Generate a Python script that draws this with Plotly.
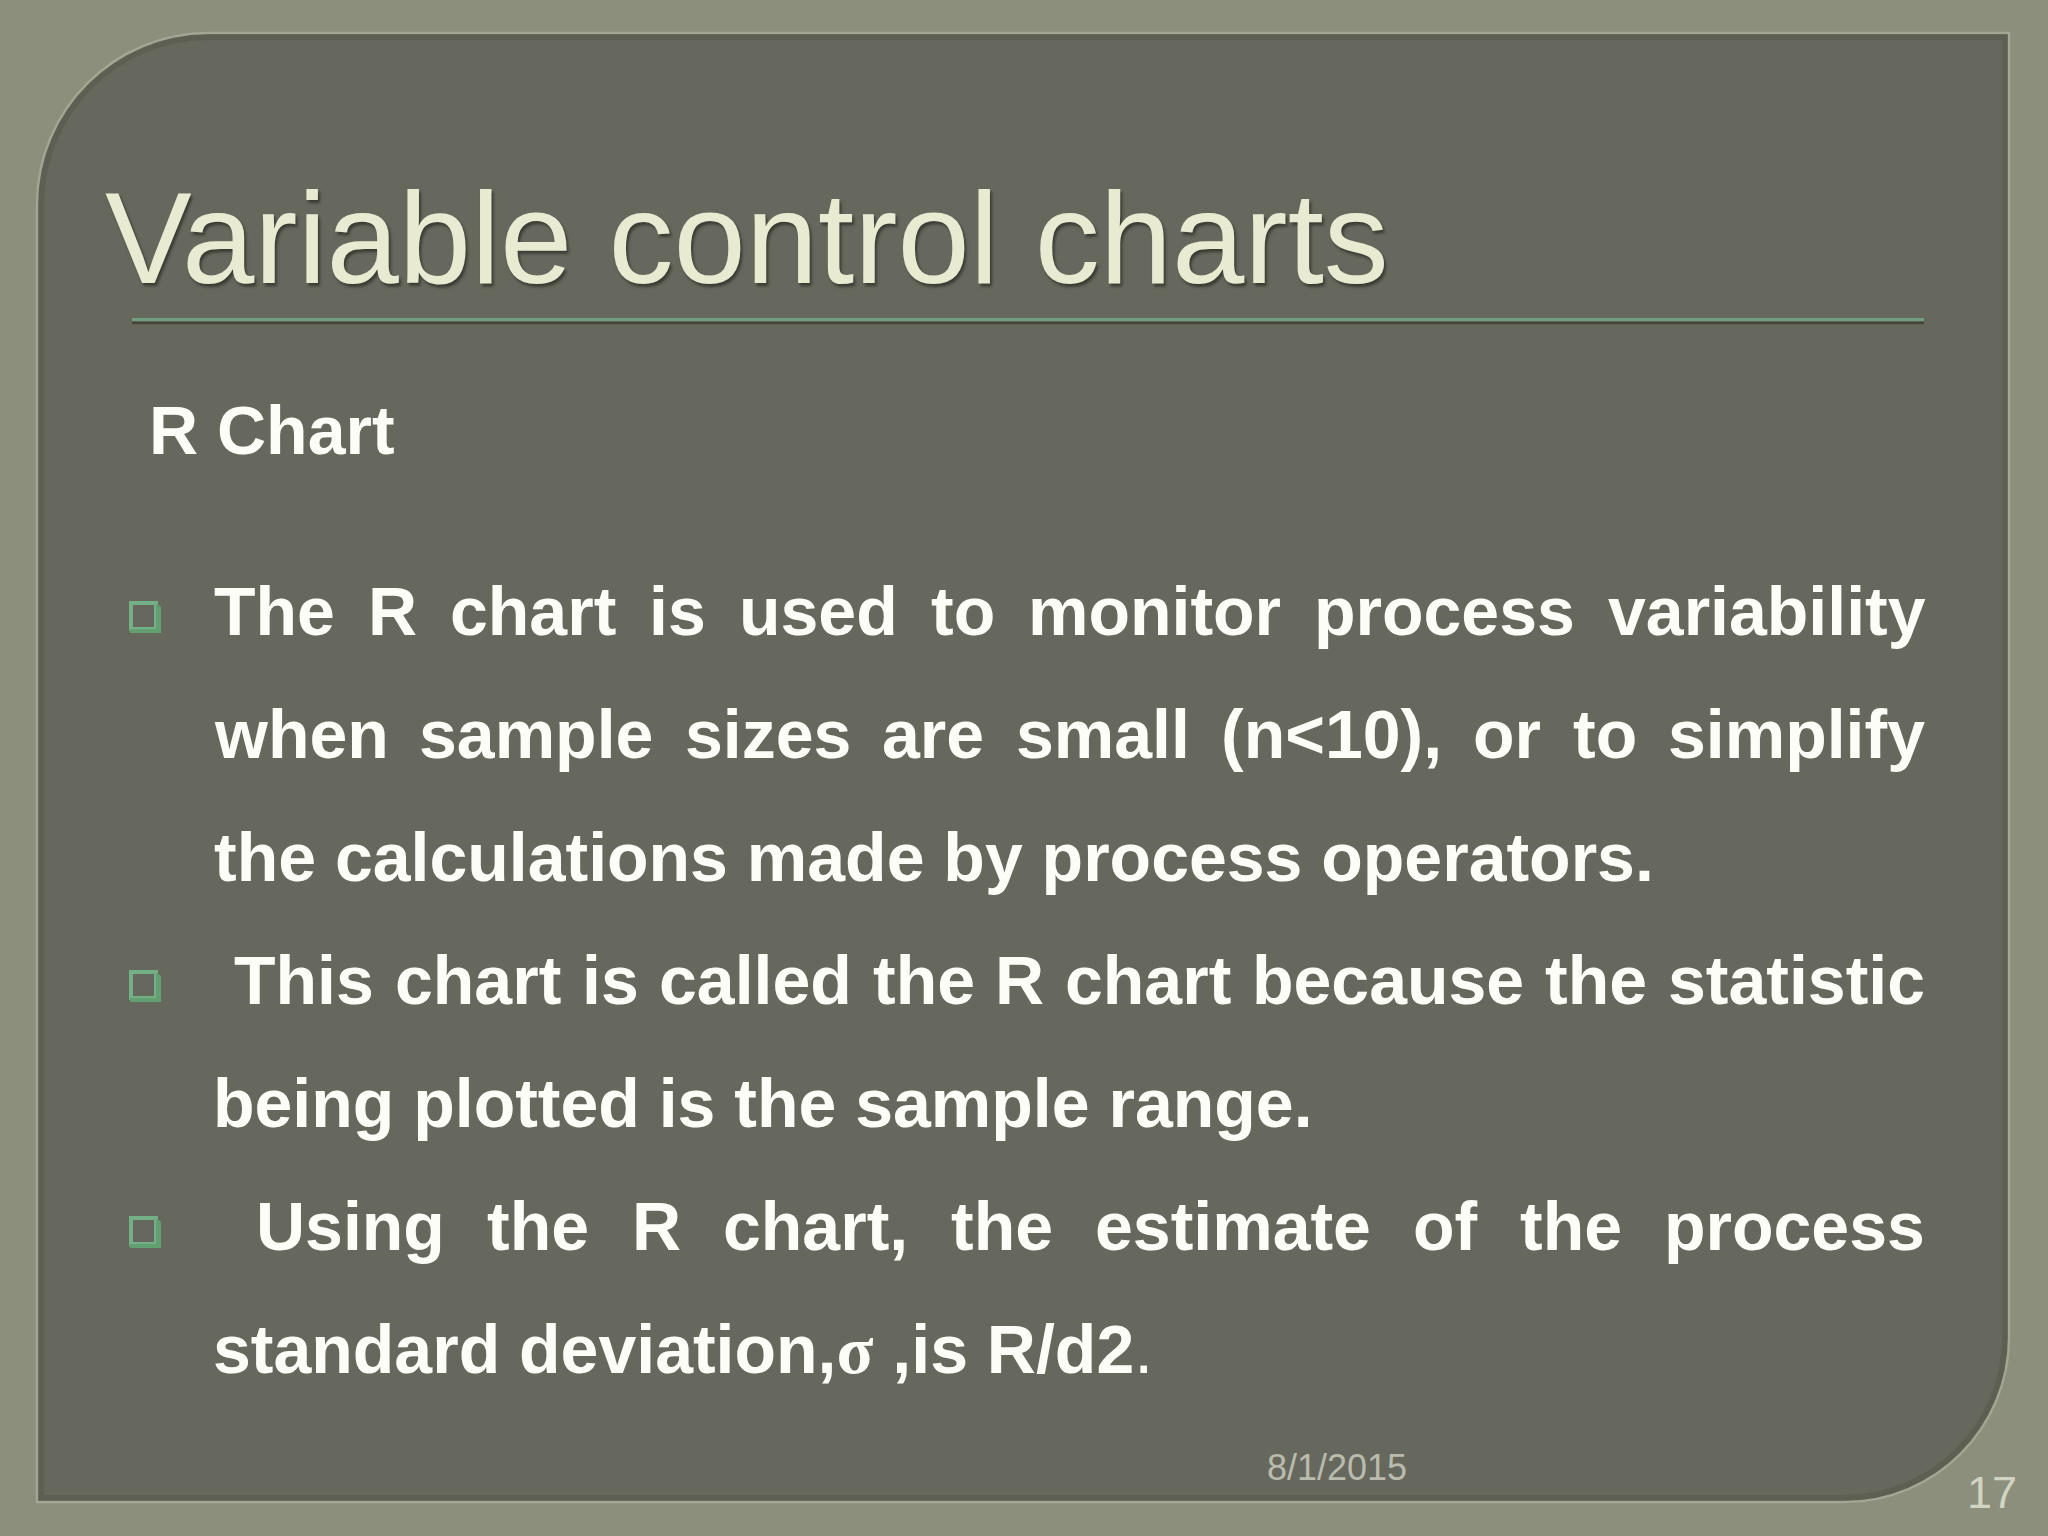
import plotly.graph_objects as go

# slide content
TITLE = "Variable control charts"
HEADING = "R Chart"
BODY_LINES = [
    "The R chart is used to monitor process variability",
    "when sample sizes are small (n<10), or to simplify",
    "the calculations made by process operators.",
    "This chart is called the R chart because the statistic",
    "being plotted is the sample range.",
    "Using the R chart, the estimate of the process",
    "standard deviation,σ ,is R/d2.",
]
BULLET_ROWS = [0, 3, 5]
JUSTIFIED_ROWS = [0, 1, 3, 5]
DATE_TEXT = "8/1/2015"
PAGE_NO = "17"

W, H = 2048, 1536

# layout of the slide (pixels)
PANEL = (37, 33, 2009, 1502)
R_TL, R_BR = 172, 165
BODY_FS = 68
BODY_RIGHT = 1924
ROW_X = [213, 213, 213, 233, 212, 255, 212]
FIRST_BASE, ROW_STEP = 635, 123

# Arial / Liberation Sans Bold advance widths (1/1000 em) for justification
BOLD_W = {
    'a': 556, 'b': 611, 'c': 556, 'd': 611, 'e': 556, 'f': 333, 'g': 611,
    'h': 611, 'i': 278, 'j': 278, 'k': 556, 'l': 278, 'm': 889, 'n': 611,
    'o': 611, 'p': 611, 'q': 611, 'r': 389, 's': 556, 't': 333, 'u': 611,
    'v': 556, 'w': 778, 'x': 556, 'y': 556, 'z': 500, 'T': 611, 'R': 722,
    'U': 722, '(': 333, ')': 333, '<': 584, '0': 556, '1': 556, ',': 278,
    '.': 278, ' ': 278,
}


def word_width(word, fs):
    return sum(BOLD_W.get(ch, 556) for ch in word) * fs / 1000.0


def center_y(baseline, fs):
    # text box centre for a single line of Liberation Sans
    return baseline - 0.3465 * fs


def panel_path(x0, y0, x1, y1, r1, r2):
    c1, c2 = 0.5523 * r1, 0.5523 * r2
    return (f"M {x0 + r1},{y0} L {x1},{y0} L {x1},{y1 - r2} "
            f"C {x1},{y1 - r2 + c2} {x1 - r2 + c2},{y1} {x1 - r2},{y1} "
            f"L {x0},{y1} L {x0},{y0 + r1} "
            f"C {x0},{y0 + r1 - c1} {x0 + r1 - c1},{y0} {x0 + r1},{y0} Z")


fig = go.Figure()
shapes = []
annotations = []

x0, y0, x1, y1 = PANEL
shapes.append(dict(type="path", path=panel_path(x0, y0, x1, y1, R_TL, R_BR),
                   fillcolor="#67685d", line=dict(color="#a3a692", width=2.5),
                   layer="below"))
# soft inner shadow along the panel edge
shapes.append(dict(type="path",
                   path=panel_path(x0 + 4, y0 + 4, x1 - 4, y1 - 4, R_TL - 4, R_BR - 4),
                   fillcolor="rgba(0,0,0,0)",
                   line=dict(color="rgba(60,62,52,0.22)", width=6), layer="below"))

# rule under the title
shapes.append(dict(type="line", x0=132, x1=1924, y0=319.5, y1=319.5,
                   line=dict(color="#6f9e80", width=3)))
shapes.append(dict(type="line", x0=132, x1=1924, y0=323, y1=323,
                   line=dict(color="#45473d", width=2.5)))

# title
annotations.append(dict(
    x=104, y=center_y(283, 130), text=TITLE, xanchor="left", yanchor="middle",
    showarrow=False, borderpad=0,
    font=dict(family="Liberation Sans, Arial", size=130, color="#e8ebd2",
              shadow="2px 3px 3px #3a3c33")))

# heading
annotations.append(dict(
    x=148, y=center_y(454, 68), text=f"<b>{HEADING}</b>", xanchor="left",
    yanchor="middle", showarrow=False, borderpad=0,
    font=dict(family="Liberation Sans, Arial", size=68, color="#fdfdf8")))

body_font = dict(family="Liberation Sans, Arial", size=BODY_FS, color="#fdfdf8")

for i, line in enumerate(BODY_LINES):
    base = FIRST_BASE + i * ROW_STEP
    cy = center_y(base, BODY_FS)
    lx = ROW_X[i]
    if i in JUSTIFIED_ROWS:
        words = line.split()
        widths = [word_width(w, BODY_FS) for w in words]
        gap = (BODY_RIGHT - lx - sum(widths)) / (len(words) - 1)
        xpos = lx
        for w, ww in zip(words, widths):
            annotations.append(dict(
                x=xpos, y=cy, text=f"<b>{w}</b>", xanchor="left",
                yanchor="middle", showarrow=False, borderpad=0, font=body_font))
            xpos += ww + gap
    else:
        txt = line
        if "σ" in txt:
            head, tail = txt.split("σ")
            tail_main, dot = tail[:-1], tail[-1]
            txt = (f"<b>{head}</b>"
                   f"<span style='font-family:Liberation Serif'><b>σ</b></span>"
                   f"<b>{tail_main}</b>"
                   f"<span style='font-weight:normal'>{dot}</span>")
        else:
            txt = f"<b>{txt}</b>"
        annotations.append(dict(
            x=lx, y=cy, text=txt, xanchor="left", yanchor="middle",
            showarrow=False, borderpad=0, font=body_font))

# square bullets
for i in BULLET_ROWS:
    base = FIRST_BASE + i * ROW_STEP
    bt, bb = base - 34, base - 2
    shapes.append(dict(type="rect", x0=131, x1=156, y0=bt + 2, y1=bb - 4,
                       line=dict(color="#74b086", width=4),
                       fillcolor="rgba(0,0,0,0)"))
    shapes.append(dict(type="path",
                       path=f"M 156,{bt + 2} L 161,{bt + 6} L 161,{bb} L 130,{bb} L 130,{bb - 4} L 156,{bb - 4} Z",
                       fillcolor="#62a072", line=dict(width=0)))

# footer
annotations.append(dict(
    x=1266, y=center_y(1480, 36), text=DATE_TEXT, xanchor="left",
    yanchor="middle", showarrow=False, borderpad=0,
    font=dict(family="Liberation Sans, Arial", size=36, color="#b9bbac")))
annotations.append(dict(
    x=2018, y=center_y(1508, 45), text=PAGE_NO, xanchor="right",
    yanchor="middle", showarrow=False, borderpad=0,
    font=dict(family="Liberation Sans, Arial", size=45, color="#d2d4c3")))

fig.update_layout(
    width=W, height=H,
    margin=dict(l=0, r=0, t=0, b=0),
    paper_bgcolor="#8c8f7b",
    plot_bgcolor="#8c8f7b",
    xaxis=dict(range=[0, W], visible=False, fixedrange=True),
    yaxis=dict(range=[H, 0], visible=False, fixedrange=True),
    shapes=shapes,
    annotations=annotations,
    showlegend=False,
)

fig.write_html("out.html", config={"displayModeBar": False},
               post_script="document.body.style.margin='0';document.body.style.overflow='hidden';")
